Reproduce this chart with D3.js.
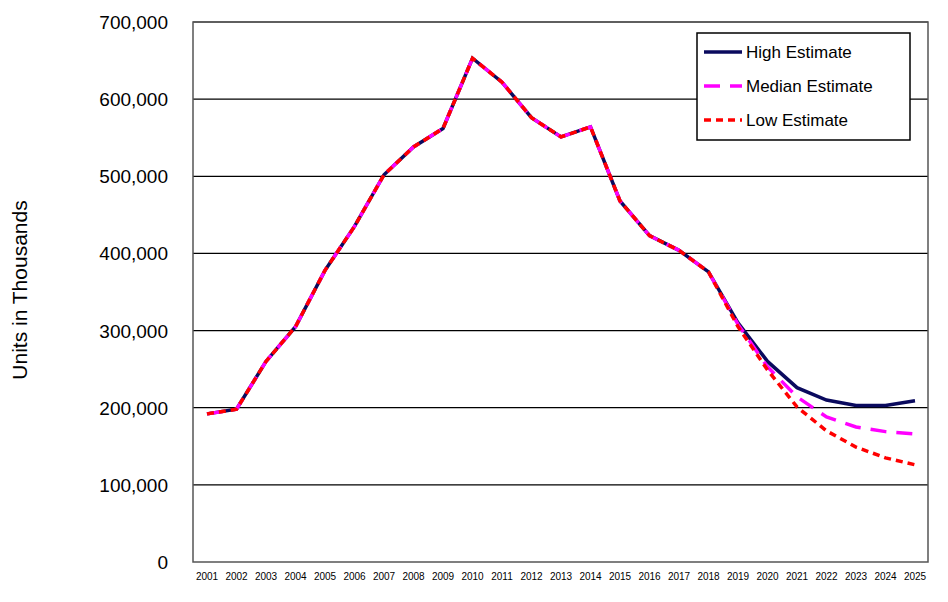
<!DOCTYPE html><html><head><meta charset="utf-8">
<script src="https://cdn.jsdelivr.net/npm/d3@7"></script>
<style>body{margin:0;background:#fff}text{font-family:Arial,"Liberation Sans",sans-serif}</style></head>
<body><svg width="948" height="602"></svg><script>
const years=d3.range(2001,2026).map(String);
const high=[192000,198000,260000,305000,378000,435000,502000,538000,562000,653000,622000,576000,551000,564000,468000,423000,404000,376000,310000,260000,226000,210000,203000,203000,209000];
const median=[192000,198000,260000,305000,378000,435000,502000,538000,562000,653000,622000,576000,551000,564000,468000,423000,404000,376000,308000,253000,214000,188000,175000,169000,166000];
const low=[192000,198000,260000,305000,378000,435000,502000,538000,562000,653000,622000,576000,551000,564000,468000,423000,404000,376000,305000,249000,201000,170000,149000,135000,126000];
const yTicks=[0,100000,200000,300000,400000,500000,600000,700000];
const series=[{name:"High Estimate",v:high,c:"#0a0a5e",d:null},{name:"Median Estimate",v:median,c:"#ff00ff",d:"16,10"},{name:"Low Estimate",v:low,c:"#ff0000",d:"7,5"}];
const svg=d3.select("svg");
const L=193,R=928,T=22,B=562;
const x=d3.scalePoint().domain(years).range([207,915]);
const y=d3.scaleLinear().domain([0,700000]).range([B,T]);
svg.append("g").selectAll("line").data(yTicks.slice(1)).join("line").attr("x1",L).attr("x2",R).attr("y1",d=>y(d)).attr("y2",d=>y(d)).attr("stroke","#000").attr("stroke-width",1.2);
svg.append("rect").attr("x",L).attr("y",T).attr("width",R-L).attr("height",B-T).attr("fill","none").attr("stroke","#555").attr("stroke-width",1.5);
svg.append("g").selectAll("text").data(yTicks).join("text").attr("x",168).attr("y",d=>y(d)+7).attr("text-anchor","end").attr("font-size",19).text(d=>d3.format(",")(d));
svg.append("g").selectAll("text").data(years).join("text").attr("x",d=>x(d)).attr("y",580).attr("text-anchor","middle").attr("font-size",10).text(d=>d);
svg.append("text").attr("transform","translate(27,290) rotate(-90)").attr("text-anchor","middle").attr("font-size",21).text("Units in Thousands");
const line=d3.line().x((d,i)=>x(years[i])).y(d=>y(d));
series.forEach(s=>svg.append("path").datum(s.v).attr("d",line).attr("fill","none").attr("stroke",s.c).attr("stroke-width",3.5).attr("stroke-dasharray",s.d));
const lg=svg.append("g");
lg.append("rect").attr("x",697).attr("y",33).attr("width",213).attr("height",107).attr("fill","#fff").attr("stroke","#000").attr("stroke-width",1.5);
series.forEach((s,i)=>{const yy=52+i*34;
lg.append("line").attr("x1",704).attr("x2",742).attr("y1",yy).attr("y2",yy).attr("stroke",s.c).attr("stroke-width",3.5).attr("stroke-dasharray",s.d);
lg.append("text").attr("x",746).attr("y",yy+6).attr("font-size",17).text(s.name);});
</script></body></html>
